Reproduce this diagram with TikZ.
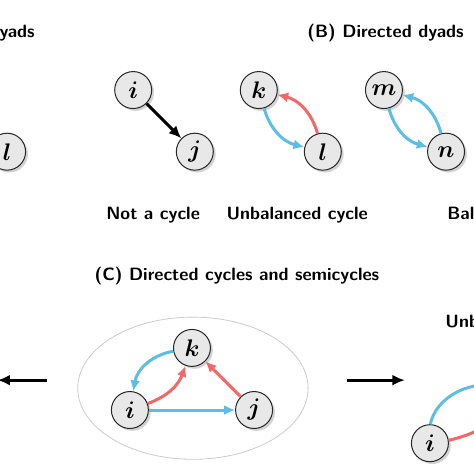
\documentclass[tikz,border=0pt]{standalone}
\usepackage{amsmath}
\usepackage{bm}
\usetikzlibrary{arrows.meta,shadows}

\definecolor{cycblue}{RGB}{92,190,228}
\definecolor{cycred}{RGB}{240,104,104}

\begin{document}
\begin{tikzpicture}[
	vertex/.style={shape=circle,draw=black!85,line width=0.6pt,fill=black!9,
		minimum size=0.78cm,inner sep=0pt,font=\fontsize{13.5}{15}\selectfont,
		drop shadow={shadow xshift=0.5mm,shadow yshift=-0.5mm,opacity=0.35}},
	title/.style={inner sep=0pt,font=\sffamily\bfseries\fontsize{10.7}{13}\selectfont},
	tie/.style={line width=1.8pt,-{Latex[length=2.6mm,width=2.3mm]}},
	bluetie/.style={line width=1.8pt,cycblue,-{Latex[length=2.3mm,width=2.1mm]}},
	redtie/.style={line width=1.8pt,cycred,-{Latex[length=2.3mm,width=2.1mm]}}
	]
	\useasboundingbox (0,0) rectangle (10,-10);
	\clip (0,0) rectangle (10,-10);

	% titles
	\node[title,anchor=base east] (tA) at (0.74,-0.80) {yads};
	\node[title,anchor=base west] (tB) at (6.48,-0.80) {(B) Directed dyads};
	\node[title,anchor=base] (tC) at (5.00,-5.91) {(C) Directed cycles and semicycles};

	% dyads
	\node[vertex] (lA) at (0.15,-3.20) {$\bm{l}$};
	\node[vertex] (i) at (2.81,-1.90) {$\bm{i}$};
	\node[vertex] (j) at (4.11,-3.20) {$\bm{j}$};
	\node[vertex] (k) at (5.46,-1.90) {$\bm{k}$};
	\node[vertex] (l) at (6.81,-3.20) {$\bm{l}$};
	\node[vertex] (m) at (8.10,-1.90) {$\bm{m}$};
	\node[vertex] (n) at (9.41,-3.20) {$\bm{n}$};

	\path[tie] (i) edge (j);
	\path[bluetie] (k) edge[bend right=30] (l);
	\path[redtie] (l) edge[bend right=30] (k);
	\path[bluetie] (m) edge[bend right=30] (n);
	\path[bluetie] (n) edge[bend right=30] (m);

	\node[title,anchor=base] (nc) at (3.23,-4.64) {Not a cycle};
	\node[title,anchor=base] (uc) at (6.27,-4.64) {Unbalanced cycle};
	\node[title,anchor=base west] (bc) at (9.43,-4.64) {Bal};

	% cycles
	\draw[black!20,line width=0.5pt] (4.07,-8.19) ellipse (2.43cm and 1.50cm);
	\node[vertex] (ck) at (4.05,-7.34) {$\bm{k}$};
	\node[vertex] (ci) at (2.74,-8.65) {$\bm{i}$};
	\node[vertex] (cj) at (5.36,-8.65) {$\bm{j}$};

	\path[bluetie] (ck) edge[bend right=35] (ci);
	\path[redtie] (ci) edge[bend right=25] (ck);
	\path[bluetie] (ci) edge (cj);
	\path[redtie] (cj) edge (ck);

	\coordinate (lout) at (0.99,-8.02);
	\coordinate (lin) at (-0.05,-8.02);
	\coordinate (rout) at (7.32,-8.02);
	\coordinate (rin) at (8.54,-8.02);
	\draw[tie] (lout) -- (lin);
	\draw[tie] (rout) -- (rin);

	\node[title,anchor=base west] (ub) at (9.39,-6.90) {Unb};
	\node[vertex] (si) at (9.07,-9.35) {$\bm{i}$};
	\coordinate (so) at (10.9,-8.35);
	\draw[line width=1.8pt,cycblue] (si) to[bend left=60] (so);
	\draw[line width=1.8pt,cycred] (si) to[bend right=20] (so);
\end{tikzpicture}
\end{document}
